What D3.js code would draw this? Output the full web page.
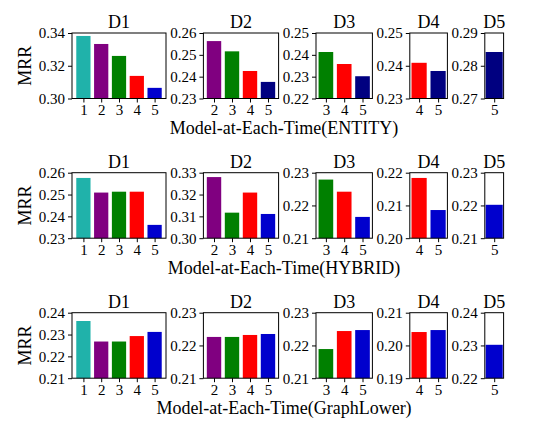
<!DOCTYPE html>
<html>
<head>
<meta charset="utf-8">
<script src="https://cdn.jsdelivr.net/npm/d3@7"></script>
<style>
  body { margin: 0; background: #fff; }
</style>
</head>
<body>
<svg width="560" height="425"></svg>
<script>
// panels and the models shown in each
var panels = ["D1", "D2", "D3", "D4", "D5"];
var models = [[1, 2, 3, 4, 5], [2, 3, 4, 5], [3, 4, 5], [4, 5], [5]];
var rowNames = ["ENTITY", "HYBRID", "GraphLower"];

// MRR values
var entity = [
  [0.3382, 0.3333, 0.3260, 0.3138, 0.3065],
  [0.2563, 0.2516, 0.2426, 0.2376],
  [0.2413, 0.2358, 0.2302],
  [0.2409, 0.2384],
  [0.2842]
];
var hybrid = [
  [0.2576, 0.2509, 0.2513, 0.2513, 0.2361],
  [0.3280, 0.3117, 0.3209, 0.3111],
  [0.2279, 0.2242, 0.2165],
  [0.2184, 0.2086],
  [0.2202]
];
var graphLower = [
  [0.2362, 0.2268, 0.2268, 0.2293, 0.2312],
  [0.2226, 0.2226, 0.2232, 0.2235],
  [0.2189, 0.2244, 0.2247],
  [0.2041, 0.2047],
  [0.2302]
];

// y tick labels per panel
var entityTicks = [[0.30, 0.32, 0.34], [0.23, 0.24, 0.25, 0.26], [0.22, 0.23, 0.24, 0.25], [0.23, 0.24, 0.25], [0.27, 0.28, 0.29]];
var hybridTicks = [[0.23, 0.24, 0.25, 0.26], [0.30, 0.31, 0.32, 0.33], [0.21, 0.22, 0.23], [0.20, 0.21, 0.22], [0.21, 0.22, 0.23]];
var graphLowerTicks = [[0.21, 0.22, 0.23, 0.24], [0.21, 0.22, 0.23], [0.21, 0.22, 0.23], [0.19, 0.20, 0.21], [0.22, 0.23, 0.24]];

var rowValues = [entity, hybrid, graphLower];
var rowTicks = [entityTicks, hybridTicks, graphLowerTicks];

var modelColor = {1: "#20b2aa", 2: "#800080", 3: "#008000", 4: "#ff0000", 5: "#0000cd"};

var serif = "'Liberation Serif', 'DejaVu Serif', serif";

var svg = d3.select("svg");
var left = 72, unit = 18.8, gap = 37.4, panelH = 65.5;
var rowTop = [33, 172.7, 312.7];

rowValues.forEach(function(vals, r) {
  var x0 = left;
  panels.forEach(function(name, p) {
    var cats = models[p], n = cats.length;
    var w = unit * n;
    var m = 0.05 * ((n - 1) + 0.8);
    var x = d3.scaleLinear()
      .domain([cats[0] - 0.4 - m, cats[n - 1] + 0.4 + m])
      .range([0, w]);
    var ticks = rowTicks[r][p];
    var y = d3.scaleLinear()
      .domain([ticks[0], ticks[ticks.length - 1]])
      .range([panelH, 0]);

    var g = svg.append("g").attr("transform", "translate(" + x0 + "," + rowTop[r] + ")");

    g.selectAll("rect.bar")
      .data(cats.map(function(c, i) { return {model: c, v: vals[p][i]}; }))
      .enter().append("rect")
        .attr("class", "bar")
        .attr("x", function(d) { return x(d.model - 0.4); })
        .attr("width", function(d) { return x(d.model + 0.4) - x(d.model - 0.4); })
        .attr("y", function(d) { return y(d.v); })
        .attr("height", function(d) { return panelH - y(d.v); })
        .attr("fill", function(d) {
          // first row draws the later panels' model 5 in navy
          if (r === 0 && p > 0 && d.model === 5) return "#000080";
          return modelColor[d.model];
        });

    var ya = g.append("g")
      .call(d3.axisLeft(y).tickValues(ticks).tickFormat(d3.format(".2f")).tickSize(4).tickPadding(3));
    ya.select(".domain").remove();

    var xa = g.append("g")
      .attr("transform", "translate(0," + panelH + ")")
      .call(d3.axisBottom(x).tickValues(cats).tickFormat(d3.format("d")).tickSize(4).tickPadding(2));
    xa.select(".domain").remove();

    g.selectAll(".tick text")
      .attr("fill", "#000")
      .style("font-family", serif)
      .style("font-size", "15px");
    g.selectAll(".tick line").attr("stroke", "#000");

    g.append("rect")
      .attr("width", w).attr("height", panelH)
      .attr("fill", "none").attr("stroke", "#000").attr("stroke-width", 1);

    g.append("text")
      .attr("x", w / 2).attr("y", -5)
      .attr("text-anchor", "middle")
      .style("font-family", serif)
      .style("font-size", "18px")
      .text(name);

    x0 += w + gap;
  });

  svg.append("text")
    .attr("transform", "translate(31," + (rowTop[r] + panelH / 2) + ") rotate(-90)")
    .attr("text-anchor", "middle")
    .style("font-family", serif)
    .style("font-size", "18px")
    .text("MRR");

  svg.append("text")
    .attr("x", 284).attr("y", rowTop[r] + 101)
    .attr("text-anchor", "middle")
    .style("font-family", serif)
    .style("font-size", "18px")
    .text("Model-at-Each-Time(" + rowNames[r] + ")");
});
</script>
</body>
</html>
